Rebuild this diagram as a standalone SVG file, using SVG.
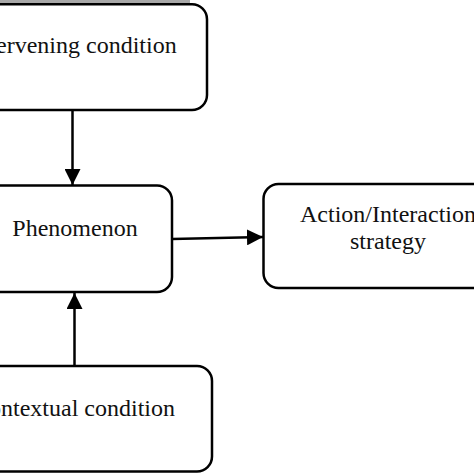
<svg xmlns="http://www.w3.org/2000/svg" width="474" height="474" viewBox="0 0 474 474">
  <defs>
    <style>
      .box { fill: #ffffff; stroke: #000000; stroke-width: 2.5; }
      .lbl { font-family: "Liberation Serif", "Times New Roman", serif; font-size: 24px; fill: #111111; text-anchor: middle; }
      .conn { stroke: #000000; stroke-width: 2.5; fill: none; }
    </style>
    <marker id="arrow" markerUnits="userSpaceOnUse" markerWidth="16" markerHeight="16" refX="16" refY="8" orient="auto" viewBox="0 0 16 16">
      <path d="M0,0 L16,8 L0,16 z" fill="#000000"/>
    </marker>
  </defs>
  <rect x="0" y="0" width="474" height="474" fill="#ffffff"/>
  <rect x="0" y="0" width="190" height="3" fill="#a8a8a8"/>
  <g id="intervening">
    <rect class="box" x="-40" y="4.3" width="247" height="105.7" rx="15"/>
    <text class="lbl" x="73" y="53">Intervening condition</text>
  </g>
  <g id="phenomenon">
    <rect class="box" x="-40" y="185.5" width="212" height="106.5" rx="15"/>
    <text class="lbl" x="75" y="236">Phenomenon</text>
  </g>
  <g id="action">
    <rect class="box" x="263.5" y="184" width="250" height="104" rx="15"/>
    <text class="lbl" x="388" y="222">Action/Interaction</text>
    <text class="lbl" x="388" y="249">strategy</text>
  </g>
  <g id="contextual">
    <rect class="box" x="-40" y="366" width="252" height="105.5" rx="15"/>
    <text class="lbl" x="74" y="416">Contextual condition</text>
  </g>
  <g id="connectors">
    <line class="conn" x1="72.5" y1="110" x2="72.5" y2="185" marker-end="url(#arrow)"/>
    <line class="conn" x1="74.5" y1="366" x2="74.5" y2="293" marker-end="url(#arrow)"/>
    <line class="conn" x1="172" y1="239" x2="263" y2="237" marker-end="url(#arrow)"/>
  </g>
</svg>
